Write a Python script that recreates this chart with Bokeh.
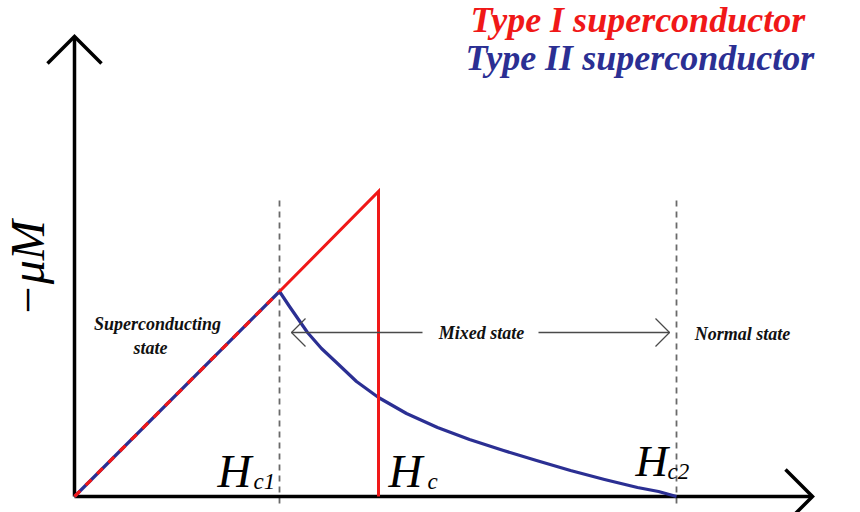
import numpy as np
from bokeh.plotting import figure
from bokeh.models import Range1d, Label
from bokeh.embed import file_html
from bokeh.resources import INLINE

# ---------------- data (field H, magnetisation -M), arbitrary units ----------------
Hc1 = 2.05
Hc = 3.04
Hc2 = 6.02
M_peak_I = 3.05      # -M of type I at Hc
M_Hc1 = 2.05         # -M at Hc1 (end of Meissner line)

# Type I: Meissner line up to Hc then drop to zero
type1_H = [Hc1, Hc, Hc]
type1_M = [M_Hc1, M_peak_I, 0.0]
meissner_H = [0.0, Hc1]
meissner_M = [0.0, M_Hc1]

# Type II mixed-state curve from Hc1 to Hc2
type2_H = [2.05, 2.15, 2.24, 2.33, 2.47, 2.63, 2.82, 3.04, 3.32, 3.63, 3.95, 4.29,
           4.62, 4.96, 5.30, 5.63, 5.84, 6.02]
type2_M = [2.05, 1.90, 1.77, 1.64, 1.48, 1.33, 1.15, 0.99, 0.83, 0.69, 0.57, 0.46,
           0.36, 0.26, 0.17, 0.09, 0.05, 0.00]

legend_labels = ["Type I superconductor", "Type II superconductor"]
region_labels = ["Superconducting", "state", "Mixed state", "Normal state"]
y_label = "\u2212\u03bcM"

RED = "#f01818"
BLUE = "#2b2f93"

# ---------------- figure ----------------
p = figure(width=860, height=512, x_range=Range1d(-0.74, 7.86), y_range=Range1d(-0.16, 4.96),
           output_backend="svg", toolbar_location=None,
           x_axis_location=None, y_axis_location=None, min_border=0)
p.xgrid.visible = False
p.ygrid.visible = False
p.outline_line_color = None
p.background_fill_color = "white"
p.border_fill_color = "white"

# dashed guides at Hc1 and Hc2
guide_top = 2.97
guide_bot = -0.07
p.multi_line(xs=[[Hc1, Hc1], [Hc2, Hc2]], ys=[[guide_bot, guide_top], [guide_bot, guide_top]],
             line_color="#6a6a6a", line_width=1.8, line_dash="6 5")

# axes with open arrow heads
x_tip = 7.38
y_tip = 4.60
head = 0.27
p.line([0, x_tip], [0, 0], line_color="black", line_width=3.5)
p.line([0, 0], [0, y_tip], line_color="black", line_width=3.5)
p.multi_line(xs=[[x_tip - head, x_tip, x_tip - head], [-head, 0, head]],
             ys=[[head, 0, -head], [y_tip - head, y_tip, y_tip - head]],
             line_color="black", line_width=3.5, line_join="miter")

# Meissner region: blue with red dashes on top
p.line(meissner_H, meissner_M, line_color=BLUE, line_width=3.2)
p.line(meissner_H, meissner_M, line_color=RED, line_width=3.2, line_dash="8 8")

# type II curve
p.line(type2_H, type2_M, line_color=BLUE, line_width=3.2, line_join="round")
# type I
p.line(type1_H, type1_M, line_color=RED, line_width=3.0, line_join="miter")

# Mixed state double arrow
ay = 1.64
left_tip, left_end = 2.17, 3.48
right_start, right_tip = 4.64, 5.95
sh = 0.14
p.multi_line(xs=[[left_tip, left_end], [right_start, right_tip],
                 [left_tip + sh, left_tip, left_tip + sh], [right_tip - sh, right_tip, right_tip - sh]],
             ys=[[ay, ay], [ay, ay], [ay + sh, ay, ay - sh], [ay + sh, ay, ay - sh]],
             line_color="#4a4a4a", line_width=1.3)

SERIF = "Liberation Serif"

def lab(x, y, text, size, color="black", style="bold italic", align="left",
        baseline="alphabetic", angle=0.0):
    p.add_layout(Label(x=x, y=y, text=text, text_font=SERIF, text_font_size=f"{size}px",
                       text_font_style=style, text_color=color, text_align=align,
                       text_baseline=baseline, angle=angle))

# legend texts
lab(3.96, 4.77, legend_labels[0], 36, RED)
lab(3.91, 4.39, legend_labels[1], 36, BLUE)

# region texts
lab(0.83, 1.73, region_labels[0], 18, "#111111", align="center", baseline="middle")
lab(0.76, 1.49, region_labels[1], 18, "#111111", align="center", baseline="middle")
lab(4.07, 1.64, region_labels[2], 18, "#111111", align="center", baseline="middle")
lab(6.68, 1.63, region_labels[3], 18, "#111111", align="center", baseline="middle")

# field labels
lab(1.43, 0.26, "H", 47, style="italic")
lab(1.79, 0.155, "c1", 23, style="italic")
lab(3.14, 0.26, "H", 47, style="italic")
lab(3.53, 0.155, "c", 23, style="italic")
lab(5.61, 0.36, "H", 45, style="italic")
lab(5.93, 0.255, "c2", 23, style="italic")

# y-axis label
lab(-0.47, 2.28, y_label, 48, style="italic", align="center", angle=np.pi / 2)

open("out.html", "w").write(file_html(p, INLINE))
